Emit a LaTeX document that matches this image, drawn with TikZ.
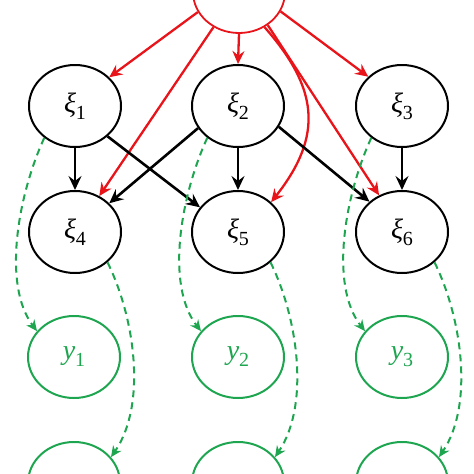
\documentclass[tikz,border=0pt]{standalone}
\usepackage{fontspec}
\setmainfont{Liberation Serif}
\usetikzlibrary{arrows.meta,shapes.geometric}
\definecolor{myred}{RGB}{232,20,26}
\definecolor{mygreen}{RGB}{30,165,80}
\newcommand{\lbl}[2]{\textit{#1}\raisebox{-7pt}{\fontsize{20}{20}\selectfont #2}}
\begin{document}
\begin{tikzpicture}[x=1pt,y=-1pt,
  ell/.style={ellipse,minimum width=92pt,minimum height=82pt,inner sep=0pt,font=\fontsize{28}{28}\selectfont},
  blk/.style={ell,draw=black,line width=2pt},
  rnode/.style={ell,draw=myred,line width=1.8pt},
  gnode/.style={ell,draw=mygreen,line width=2pt,text=mygreen},
  barr/.style={draw=black,line width=2.6pt,-{Stealth[length=14pt,width=13pt,inset=5pt]}},
  rarr/.style={draw=myred,line width=2.3pt,-{Stealth[length=13pt,width=12pt,inset=4.5pt]}},
  garr/.style={draw=mygreen,line width=2pt,dash pattern=on 7pt off 5pt,-{Stealth[length=11pt,width=10pt,inset=3.5pt]}}]
\clip (0,0) rectangle (474,474);
\useasboundingbox (0,0) rectangle (474,474);
\node[rnode] (top) at (239,-8) {};
\node[blk] (x1) at (75,106) {\lbl{ξ}{1}};
\node[blk] (x2) at (238,106) {\lbl{ξ}{2}};
\node[blk] (x3) at (402,106) {\lbl{ξ}{3}};
\node[blk] (x4) at (75,232) {\lbl{ξ}{4}};
\node[blk] (x5) at (238,232) {\lbl{ξ}{5}};
\node[blk] (x6) at (402,232) {\lbl{ξ}{6}};
\node[gnode] (y1) at (74,357) {\lbl{y}{1}};
\node[gnode] (y2) at (238,357) {\lbl{y}{2}};
\node[gnode] (y3) at (402,357) {\lbl{y}{3}};
\node[gnode] (z1) at (74,483) {};
\node[gnode] (z2) at (238,483) {};
\node[gnode] (z3) at (402,483) {};
% red
\draw[rarr] (top.206) -- (x1.40);
\draw[rarr] (top.234) -- (x4.56);
\draw[rarr] (top.south) -- (x2.north);
\draw[rarr] (top.306) .. controls (318,88) and (324,135) .. (x5.42);
\draw[rarr] (top.311) -- (x6.122);
\draw[rarr] (top.335) -- (x3.139);
% black
\draw[barr] (x1.south) -- (x4.north);
\draw[barr] (x2.south) -- (x5.north);
\draw[barr] (x3.south) -- (x6.north);
\draw[barr] (x1.317) -- (x5.147);
\draw[barr] (x2.209) -- (x4.40);
\draw[barr] (x2.333) -- (x6.137);
% green
\draw[garr] (x1.226) .. controls (18,195) and (2,285) .. (y1.145);
\draw[garr] (x2.226) .. controls (181,195) and (165,285) .. (y2.145);
\draw[garr] (x3.226) .. controls (345,195) and (329,285) .. (y3.145);
\draw[garr] (x4.317) .. controls (135,318) and (147,405) .. (z1.35);
\draw[garr] (x5.317) .. controls (298,318) and (310,405) .. (z2.35);
\draw[garr] (x6.317) .. controls (462,318) and (474,405) .. (z3.35);
\end{tikzpicture}
\end{document}
